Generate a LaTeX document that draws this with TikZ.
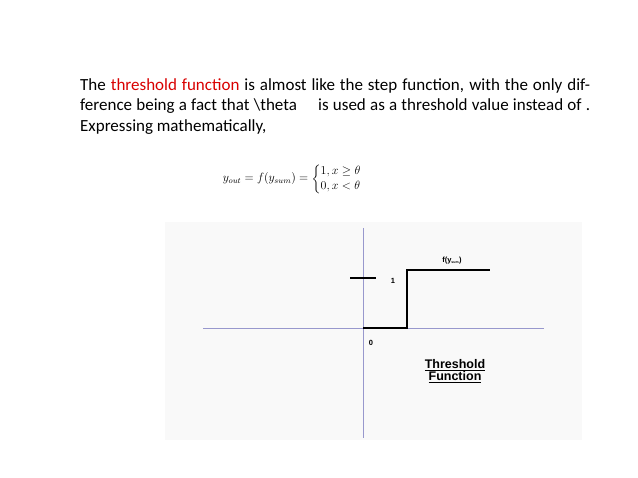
\documentclass[tikz,border=0pt]{standalone}
\usepackage{amsmath}
\usepackage{fontspec}
\setmainfont{Carlito}
\newfontfamily\arialf{Liberation Sans}
\begin{document}
\begin{tikzpicture}[x=1pt,y=-1pt,
  axis/.style={draw=blue!35!gray!60, line width=0.8pt},
  curve/.style={draw=black, line width=2.6pt},
  lbl/.style={font=\arialf\bfseries\fontsize{7.5}{8}\selectfont, inner sep=0pt}]
\useasboundingbox (0,0) rectangle (638,478);
\fill[white] (0,0) rectangle (638,478);
\fill[gray!5] (165,222) rectangle (582,440);
\node[text width=510pt, align=justify, anchor=north west, inner sep=0pt,
  font=\fontsize{17}{20.5}\selectfont] (para) at (80,78)
  {The \textcolor{red!85!black}{threshold function} is almost like the step function, with the only difference being a fact that \textbackslash theta\quad\ is used as a threshold value instead of . Expressing mathematically,};
\node[font=\fontsize{11.5}{13}\selectfont] (eq) at (298,179)
  {$y_{out}=f(y_{sum})=\begin{cases}1,x\ge\theta\\0,x<\theta\end{cases}$};
\coordinate (xl) at (203,328); \coordinate (xr) at (544,328);
\coordinate (yt) at (363,228); \coordinate (yb) at (363,438);
\draw[axis] (xl) -- (xr);
\draw[axis] (yt) -- (yb);
\coordinate (o) at (363,328); \coordinate (s1) at (407,328);
\coordinate (s2) at (407,270); \coordinate (s3) at (490,270);
\draw[curve, line join=miter] (o) -- (s1) -- (s2) -- (s3);
\coordinate (t1) at (350,278); \coordinate (t2) at (376,278);
\draw[curve, line width=2pt] (t1) -- (t2);
\node[lbl] (one) at (393,281) {1};
\node[lbl] (zero) at (371,343) {0};
\node[lbl] (fy) at (452,261) {f(y\textsubscript{\fontsize{3.5}{4}\selectfont sum})};
\node[font=\arialf\bfseries\fontsize{12.5}{13}\selectfont, align=center, inner sep=0pt] (tf) at (455,371)
  {\underline{Threshold}\\[-1pt]\underline{Function}};
\end{tikzpicture}
\end{document}
